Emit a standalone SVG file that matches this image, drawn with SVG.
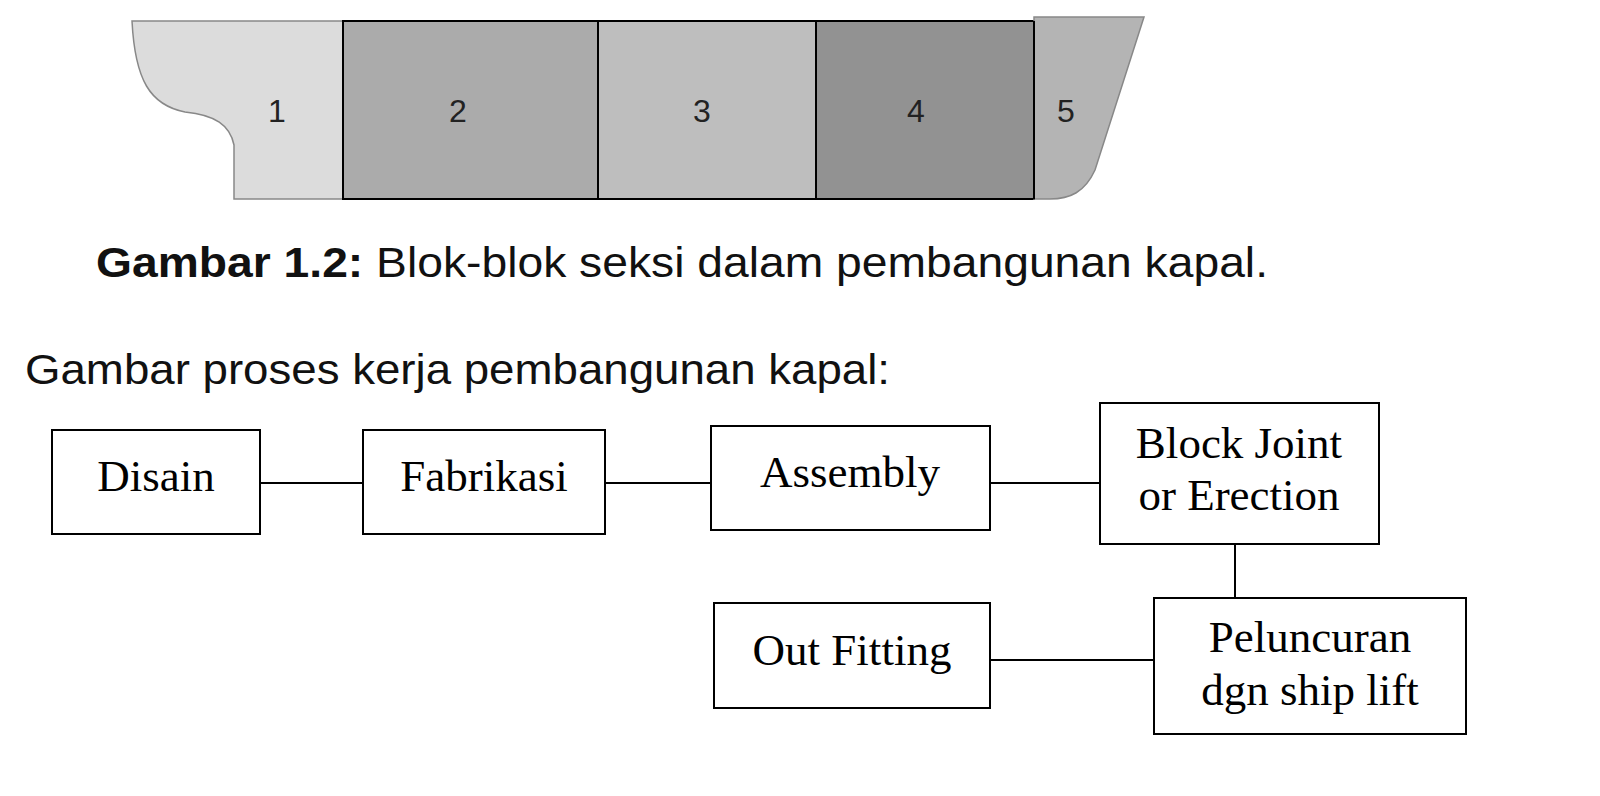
<svg xmlns="http://www.w3.org/2000/svg" width="1600" height="796" viewBox="0 0 1600 796">
<style>
.n{font-family:"Liberation Sans",Arial,sans-serif;font-size:32px;fill:#222;text-anchor:middle}
.s{font-family:"Liberation Sans",Arial,sans-serif;font-size:42px;fill:#111}
.b{fill:#fff;stroke:#000;stroke-width:2}
.t{font-family:"Liberation Serif","Times New Roman",serif;font-size:45px;fill:#000;text-anchor:middle}
.c{stroke:#000;stroke-width:2;fill:none}
</style>
<rect width="1600" height="796" fill="#fff"/>
<g id="ship">
<path d="M132,21 L343,21 L343,199 L234,199 L234,145 C230,125 215,115 185,112 C150,105 135,80 132,21 Z" fill="#dcdcdc" stroke="#888" stroke-width="1.5"/>
<rect x="343" y="21" width="255" height="178" fill="#ababab" stroke="#000" stroke-width="2"/>
<rect x="598" y="21" width="218" height="178" fill="#bebebe" stroke="#000" stroke-width="2"/>
<rect x="816" y="21" width="218" height="178" fill="#929292" stroke="#000" stroke-width="2"/>
<path d="M1034,17 L1144,17 L1095,170 C1085,192 1070,199 1050,199 L1034,199 Z" fill="#b4b4b4" stroke="#888" stroke-width="1.5"/>
<line x1="1034" y1="21" x2="1034" y2="199" stroke="#000" stroke-width="2"/>
<text class="n" x="277" y="122">1</text>
<text class="n" x="458" y="122">2</text>
<text class="n" x="702" y="122">3</text>
<text class="n" x="916" y="122">4</text>
<text class="n" x="1066" y="122">5</text>
</g>
<text class="s" x="96" y="277" textLength="1172" lengthAdjust="spacingAndGlyphs"><tspan font-weight="bold">Gambar 1.2:</tspan>  Blok-blok seksi dalam pembangunan kapal.</text>
<text class="s" x="25" y="384" textLength="865" lengthAdjust="spacingAndGlyphs">Gambar proses kerja pembangunan kapal:</text>
<g id="connectors">
<line class="c" x1="261" y1="483" x2="363" y2="483"/>
<line class="c" x1="605" y1="483" x2="711" y2="483"/>
<line class="c" x1="990" y1="483" x2="1100" y2="483"/>
<line class="c" x1="1235" y1="544" x2="1235" y2="598"/>
<line class="c" x1="990" y1="660" x2="1154" y2="660"/>
</g>
<g id="disain"><rect class="b" x="52" y="430" width="208" height="104"/><text class="t" x="156" y="491">Disain</text></g>
<g id="fabrikasi"><rect class="b" x="363" y="430" width="242" height="104"/><text class="t" x="484" y="491">Fabrikasi</text></g>
<g id="assembly"><rect class="b" x="711" y="426" width="279" height="104"/><text class="t" x="850" y="487">Assembly</text></g>
<g id="block"><rect class="b" x="1100" y="403" width="279" height="141"/><text class="t" x="1239" y="458">Block Joint</text><text class="t" x="1239" y="510">or Erection</text></g>
<g id="outfitting"><rect class="b" x="714" y="603" width="276" height="105"/><text class="t" x="852" y="665">Out Fitting</text></g>
<g id="peluncuran"><rect class="b" x="1154" y="598" width="312" height="136"/><text class="t" x="1310" y="652">Peluncuran</text><text class="t" x="1310" y="705">dgn ship lift</text></g>
</svg>
